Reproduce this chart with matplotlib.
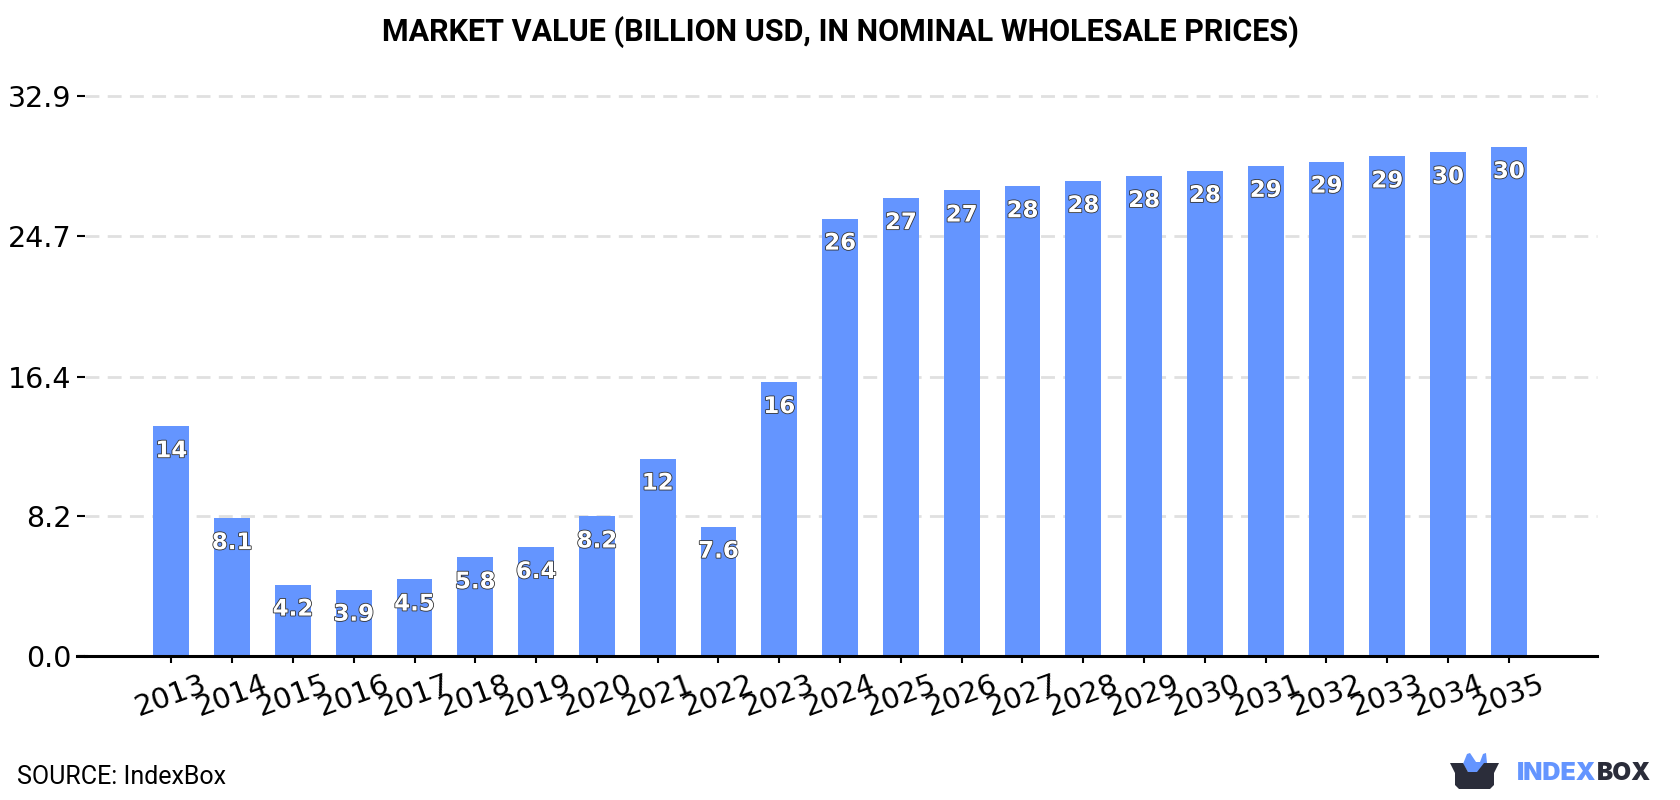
import matplotlib
matplotlib.use("Agg")
import matplotlib.pyplot as plt
import matplotlib.patheffects as pe
from matplotlib.lines import Line2D
from matplotlib.patches import Polygon

# Market value, billion USD
years = list(range(2013, 2036))
values = [13.5, 8.1, 4.2, 3.9, 4.5, 5.8, 6.4, 8.2, 11.6, 7.6, 16.1, 25.7, 26.9,
          27.35, 27.6, 27.9, 28.2, 28.5, 28.8, 29.05, 29.35, 29.6, 29.9]
y_ticks = [0.0, 8.2, 16.4, 24.7, 32.9]

BLUE = "#6495ff"
DARK = "#2b2d3a"
W, H = 1680, 800


def fx(px):
    return px / W


def fy(py):
    return 1 - py / H


fig = plt.figure(figsize=(16.8, 8), dpi=100, facecolor="white")
ax = fig.add_axes([fx(85), fy(656), fx(1597 - 85), fy(96) - fy(656)])

ax.bar(range(len(years)), values, width=0.59, color=BLUE, zorder=3)
ax.set_xlim(-1.42, 22 + 1.45)
ax.set_ylim(0, 32.9)

ax.set_yticks(y_ticks, [f"{t:.1f}" for t in y_ticks])
ax.set_xticks(range(len(years)), [str(y) for y in years], rotation=20)
ax.tick_params(axis="y", labelsize=20.5, length=5.8, width=1.5, pad=4)
ax.tick_params(axis="x", labelsize=21, length=5, width=1.5, pad=5)
ax.yaxis.grid(True, color="#e0e0e0", linewidth=2, linestyle=(0, (5, 3)), zorder=1)
for gl in ax.yaxis.get_gridlines():
    gl.set_clip_on(False)

for side in ("top", "left", "right"):
    ax.spines[side].set_visible(False)
ax.spines["bottom"].set_linewidth(2.2)
ax.spines["bottom"].set_zorder(5)
fig.add_artist(Line2D([fx(77), fx(86)], [fy(656), fy(656)], color="black", lw=2.2))

# Value labels inside the bar tops
for i, v in enumerate(values):
    ax.annotate(f"{v:.2g}", (i, v), xytext=(0, -17.7), textcoords="offset points",
                ha="center", va="center", fontsize=16.5, fontweight="bold",
                family="DejaVu Sans", color="white", zorder=6,
                path_effects=[pe.withStroke(linewidth=1.2, foreground="#333333")])

fig.text(fx(840), fy(32), "MARKET VALUE (BILLION USD, IN NOMINAL WHOLESALE PRICES)",
         ha="center", va="center", family="Roboto", fontweight="bold", fontsize=22)
fig.text(fx(17), fy(777), "SOURCE: IndexBox", ha="left", va="center",
         family="Roboto", fontsize=18)

# Brand mark: open box with a blue crown
fig.add_artist(Polygon([(fx(1463), fy(764)), (fx(1467), fy(754)), (fx(1470), fy(753)),
                        (fx(1476), fy(762)), (fx(1480), fy(762)), (fx(1483), fy(754)),
                        (fx(1486), fy(753)), (fx(1487), fy(763)), (fx(1480), fy(772)),
                        (fx(1468), fy(772))],
                       closed=True, color=BLUE, lw=0, transform=fig.transFigure))
fig.add_artist(Polygon([(fx(1450), fy(763)), (fx(1463), fy(763)), (fx(1468), fy(772)),
                        (fx(1477), fy(772)), (fx(1484), fy(763)), (fx(1499), fy(763)),
                        (fx(1494), fy(773)), (fx(1494), fy(785)), (fx(1490), fy(789)),
                        (fx(1459), fy(789)), (fx(1455), fy(785)), (fx(1455), fy(773))],
                       closed=True, color=DARK, lw=0, transform=fig.transFigure))
fig.text(fx(1517), fy(774), "INDEX", ha="left", va="center", family="Inter",
         fontweight="black", fontsize=18, color=BLUE)
fig.text(fx(1597), fy(774), "BOX", ha="left", va="center", family="Inter",
         fontweight="black", fontsize=17.5, color=DARK)

fig.savefig("out.png", dpi=100)
